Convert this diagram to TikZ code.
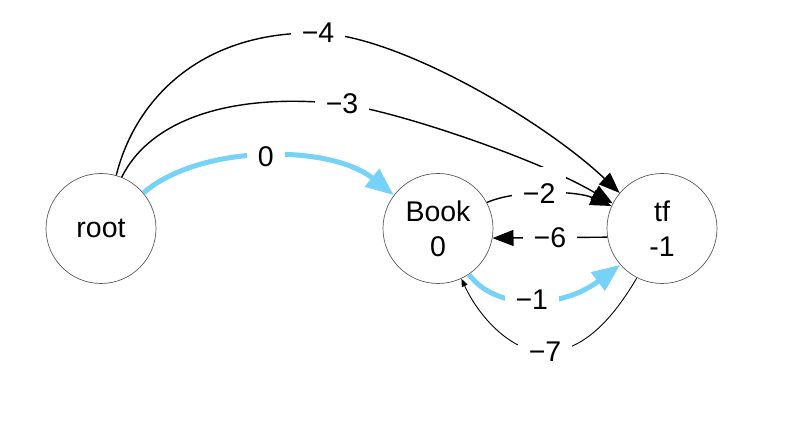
\documentclass[tikz,border=0pt]{standalone}
\usepackage{fontspec}
\setmainfont{Liberation Sans}
\usetikzlibrary{arrows.meta}
\definecolor{edgeblue}{RGB}{118,210,246}
\begin{document}
\begin{tikzpicture}[x=1pt,y=-1pt,
  state/.style={circle,draw=black!65,line width=0.7pt,minimum size=110pt,inner sep=0pt,align=center,font=\fontsize{28.5}{35}\selectfont},
  lbl/.style={fill=white,inner xsep=11pt,inner ysep=0pt,minimum height=54pt,font=\fontsize{28.5}{30}\selectfont},
  blackarc/.style={draw=black,line width=1.4pt,-{Triangle[length=21pt,width=16pt]}},
  bluearc/.style={draw=edgeblue,line width=5pt,-{Triangle[length=28pt,width=22pt]}},
  smallarc/.style={draw=black,line width=0.9pt,-{Triangle[length=8pt,width=6pt]}}]
\useasboundingbox (0,0) rectangle (795,430);
\node[state] (root) at (101,228.5) {root};
\node[state] (book) at (438,228.5) {Book\\0};
\node[state] (tf) at (662,228.5) {tf\\-1};
\draw[blackarc] (root.74) .. controls (135,100) and (200,31) .. (318,33) node[lbl]{−4}
  .. controls (400,36) and (545,122) .. (tf.140);
\draw[blackarc] (root.68) .. controls (150,120) and (230,92) .. (342,104) node[lbl]{−3}
  .. controls (400,112) and (540,160) .. (tf.153);
\draw[bluearc] (root.40) .. controls (200,144) and (330,144) .. node[lbl,pos=0.5]{0} (book.143);
\draw[blackarc] (book.28) .. controls (515,190) and (575,190) .. node[lbl,pos=0.45]{−2} (tf.156);
\draw[blackarc] (tf.189) -- node[lbl]{−6} (book.-10);
\draw[bluearc] (book.-56) .. controls (495,310) and (560,310) .. node[lbl]{−1} (tf.221);
\draw[smallarc] (tf.243) .. controls (615,315) and (585,352) .. (545,352) node[lbl]{−7}
  .. controls (510,352) and (478,315) .. (book.295);
\end{tikzpicture}
\end{document}
